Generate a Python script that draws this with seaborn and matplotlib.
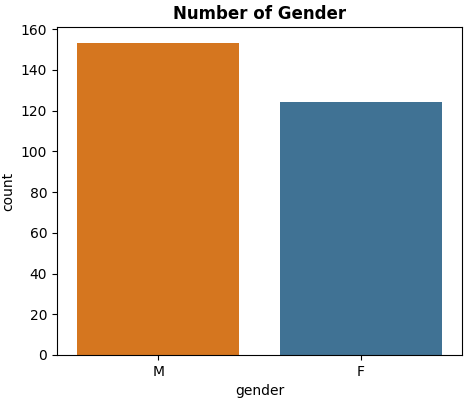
import matplotlib
matplotlib.use("Agg")
import matplotlib.pyplot as plt
import seaborn as sns
import pandas as pd

genders = ["M", "F"]
counts = [153, 124]
colors = ["#d5761f", "#407294"]

df = pd.DataFrame({"gender": genders, "count": counts})
fig = plt.figure(figsize=(4.74, 4.01), dpi=100)
ax = fig.add_axes([57/474, 46/401, 405/474, 328/401])
sns.barplot(data=df, x="gender", y="count", hue="gender", palette=colors, saturation=1, legend=False, ax=ax)
ax.set_ylim(0, 161)
ax.set_title("Number of Gender", fontweight="bold")
fig.savefig("out.png", dpi=100)
